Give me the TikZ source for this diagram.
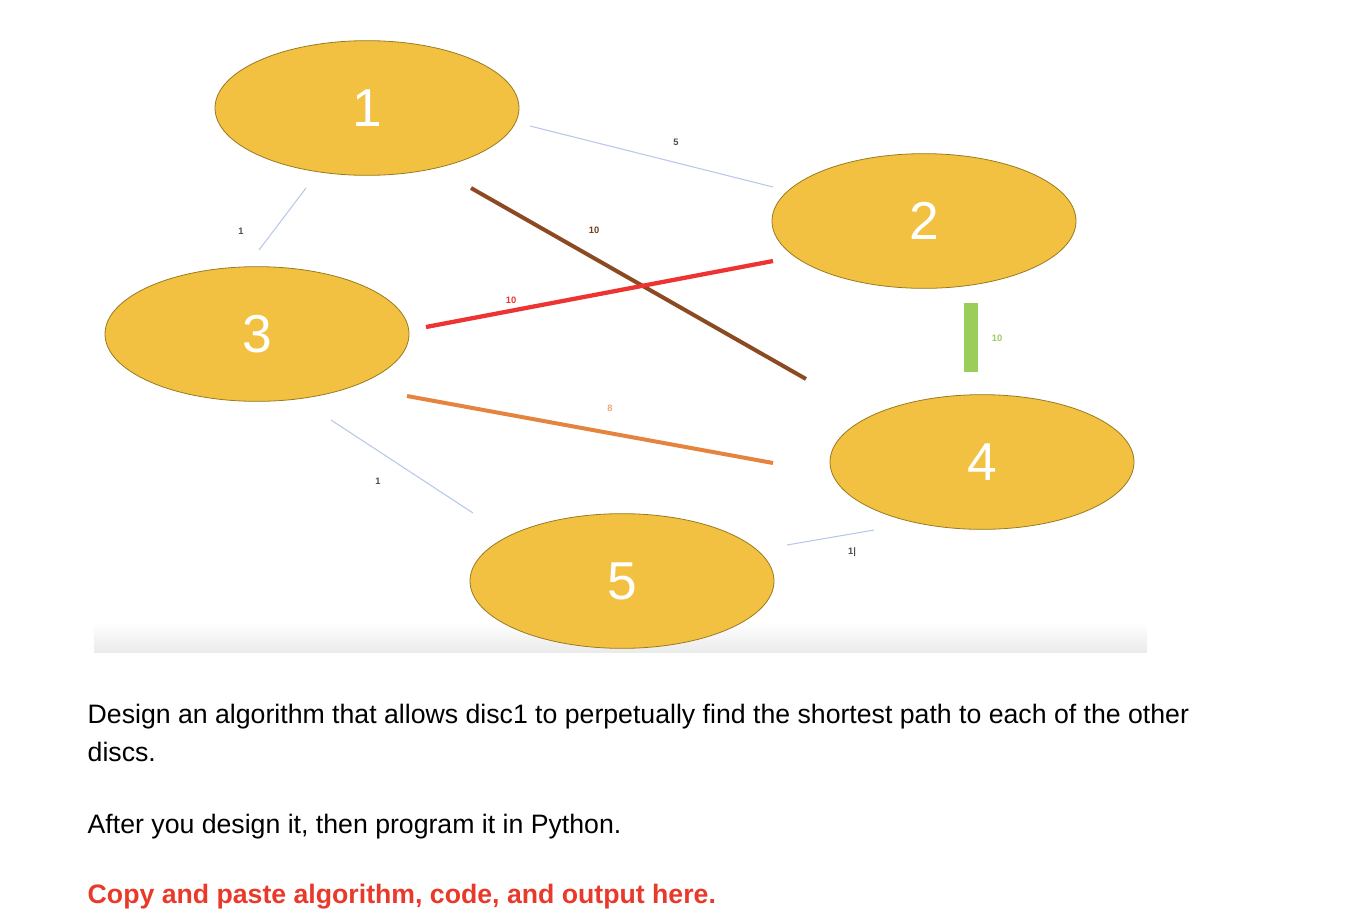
\documentclass[tikz,border=0pt]{standalone}
\usepackage{fontspec}
\setmainfont{Liberation Sans}
\usetikzlibrary{shapes.geometric}
\definecolor{disc}{HTML}{F2C141}
\definecolor{discb}{HTML}{9A7A20}
\definecolor{thinb}{HTML}{B8C8E8}
\definecolor{brn}{HTML}{8B4A22}
\definecolor{rd}{HTML}{EE3333}
\definecolor{gr}{HTML}{9ACD5A}
\definecolor{org}{HTML}{E5843E}
\definecolor{txtred}{HTML}{E8392A}
\begin{document}
\begin{tikzpicture}[x=0.75pt,y=-0.75pt,
  disc/.style={ellipse,draw=discb,line width=0.6pt,fill=disc,minimum width=228pt,minimum height=101pt,inner sep=0pt,
    font=\fontsize{40}{40}\selectfont,text=white},
  wlab/.style={font=\fontsize{7}{7}\selectfont\bfseries},
  body/.style={anchor=base west,font=\fontsize{20}{24}\selectfont}]
\useasboundingbox (0,0) rectangle (1359,922);
\shade[top color=white,bottom color=black!8] (94,622) rectangle (1147,652);
% connectors
\coordinate (a1) at (530,126); \coordinate (a2) at (773,187);
\coordinate (b1) at (306,188); \coordinate (b2) at (259,250);
\coordinate (c1) at (471,188); \coordinate (c2) at (806,379);
\coordinate (d1) at (426,327); \coordinate (d2) at (773,261);
\coordinate (e1) at (971,303); \coordinate (e2) at (971,372);
\coordinate (f1) at (407,396); \coordinate (f2) at (773,463);
\coordinate (g1) at (331,420); \coordinate (g2) at (473,513);
\coordinate (h1) at (787,545); \coordinate (h2) at (874,530);
\draw[thinb,line width=0.8pt] (a1) -- (a2);
\draw[thinb,line width=0.8pt] (b1) -- (b2);
\draw[brn,line width=3pt] (c1) -- (c2);
\draw[rd,line width=3.2pt] (d1) -- (d2);
\draw[gr,line width=11pt] (e1) -- (e2);
\draw[org,line width=3pt] (f1) -- (f2);
\draw[thinb,line width=0.8pt] (g1) -- (g2);
\draw[thinb,line width=0.8pt] (h1) -- (h2);
\node[wlab,text=black!70] (l5) at (676,142) {5};
\node[wlab,text=black!70] (l1a) at (241,231) {1};
\node[wlab,text=brn!80!black] (l10a) at (594,230) {10};
\node[wlab,text=rd] (l10b) at (511,300) {10};
\node[wlab,text=gr] (l10c) at (997,338) {10};
\node[wlab,text=org!70] (l8) at (610,408) {8};
\node[wlab,text=black!70] (l1b) at (378,481) {1};
\node[wlab,text=black!70] (l1c) at (852,552) {1|};
% discs
\node[disc] (n1) at (367,108) {1};
\node[disc] (n2) at (924,221) {2};
\node[disc] (n3) at (257,334) {3};
\node[disc] (n4) at (982,462) {4};
\node[disc] (n5) at (622,581) {5};
% text
\node[body] (t1) at (83,723) {Design an algorithm that allows disc1 to perpetually find the shortest path to each of the other};
\node[body] (t2) at (83,761) {discs.};
\node[body] (t3) at (83,833) {After you design it, then program it in Python.};
\node[body,text=txtred,font=\fontsize{20}{24}\selectfont\bfseries] (t4) at (83,903) {Copy and paste algorithm, code, and output here.};
\end{tikzpicture}
\end{document}
